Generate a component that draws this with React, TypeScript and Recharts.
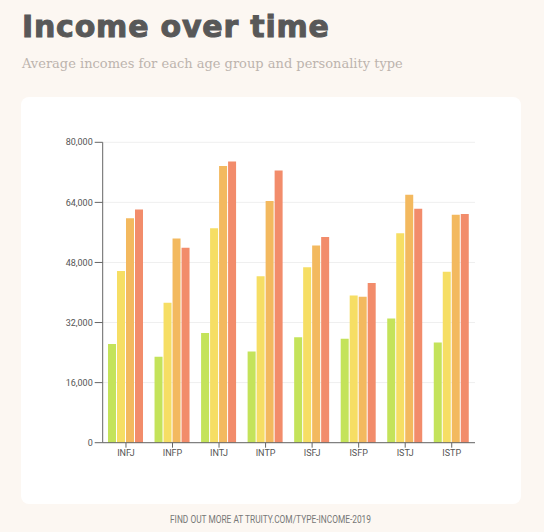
import React from 'react';
import { BarChart, Bar, XAxis, YAxis, CartesianGrid } from 'recharts';

const categories = ['INFJ', 'INFP', 'INTJ', 'INTP', 'ISFJ', 'ISFP', 'ISTJ', 'ISTP'];
const age1 = [26300, 22900, 29200, 24300, 28100, 27700, 33100, 26700];
const age2 = [45700, 37300, 57100, 44300, 46700, 39200, 55800, 45500];
const age3 = [59800, 54400, 73700, 64400, 52500, 38900, 66000, 60700];
const age4 = [62100, 51900, 74900, 72500, 54800, 42500, 62300, 60900];
const yTicks = [0, 16000, 32000, 48000, 64000, 80000];

const seriesKeys = ['age1', 'age2', 'age3', 'age4'];
const seriesColors = ['#c4e35a', '#f6de64', '#f3b95f', '#f28c6b'];

const data = categories.map((c, i) => ({
  name: c,
  age1: age1[i],
  age2: age2[i],
  age3: age3[i],
  age4: age4[i],
}));

export default function App() {
  return (
    <div
      style={{
        position: 'absolute',
        left: 0,
        top: 0,
        width: 544,
        height: 532,
        background: '#fcf7f2',
        overflow: 'hidden',
      }}
    >
      <div
        style={{
          position: 'absolute',
          left: 22,
          top: 9,
          fontFamily: '"DejaVu Sans", sans-serif',
          fontWeight: 700,
          fontSize: 30,
          letterSpacing: 0.8,
          color: '#585858',
          WebkitTextStroke: '1px #585858',
          lineHeight: '36px',
          whiteSpace: 'nowrap',
        }}
      >
        Income over time
      </div>
      <div
        style={{
          position: 'absolute',
          left: 22,
          top: 54,
          fontFamily: '"DejaVu Serif", serif',
          fontSize: 13,
          color: '#bdb4ae',
          lineHeight: '20px',
          whiteSpace: 'nowrap',
        }}
      >
        Average incomes for each age group and personality type
      </div>
      <div
        style={{
          position: 'absolute',
          left: 21,
          top: 97,
          width: 500,
          height: 407,
          background: '#ffffff',
          borderRadius: 8,
        }}
      />
      <div style={{ position: 'absolute', left: 0, top: 0 }}>
        <BarChart
          width={544}
          height={532}
          data={data}
          margin={{ top: 142.3, right: 69, bottom: 59.3, left: 42.7 }}
          barGap={1}
          barCategoryGap="11.4%"
        >
          <CartesianGrid vertical={false} stroke="#efefef" />
          <XAxis
            dataKey="name"
            height={30}
            tickSize={5}
            tickMargin={2}
            stroke="#666"
            tick={{ fontFamily: 'Roboto, sans-serif', fontSize: 9, fill: '#555' }}
            interval={0}
          />
          <YAxis
            width={60}
            domain={[0, 80000]}
            ticks={yTicks}
            tickSize={8}
            tickMargin={2}
            stroke="#666"
            tickFormatter={(v: number) => v.toLocaleString('en-US')}
            tick={{ fontFamily: 'Roboto, sans-serif', fontSize: 9, fill: '#555' }}
            interval={0}
          />
          {seriesKeys.map((k, i) => (
            <Bar key={k} dataKey={k} fill={seriesColors[i]} isAnimationActive={false} />
          ))}
        </BarChart>
      </div>
      <svg
        style={{ position: 'absolute', left: 0, top: 505 }}
        width={544}
        height={27}
      >
        <text
          x={170}
          y={17.5}
          textLength={201}
          lengthAdjust="spacingAndGlyphs"
          fontFamily="Roboto, sans-serif"
          fontSize={10}
          fill="#777"
        >
          FIND OUT MORE AT TRUITY.COM/TYPE-INCOME-2019
        </text>
      </svg>
    </div>
  );
}
